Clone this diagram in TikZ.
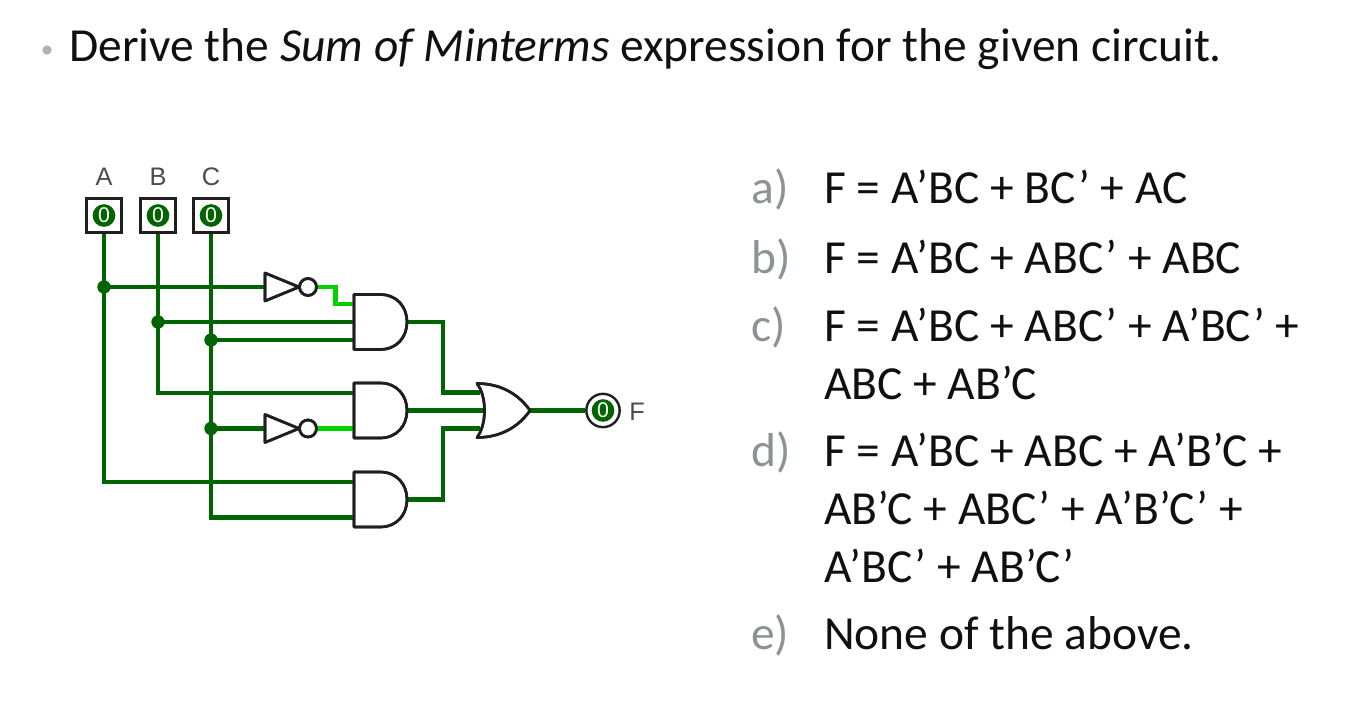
\documentclass[tikz,border=0pt]{standalone}
\usepackage{fontspec}
\setmainfont{Carlito}
\newfontfamily\arialfont{Liberation Sans}
\definecolor{wiredark}{HTML}{006400}
\definecolor{wirelit}{HTML}{00D200}
\definecolor{optgray}{HTML}{8C9490}
\definecolor{inktext}{HTML}{101010}
\tikzset{
  x=0.75pt,y=-0.75pt,
  wire/.style={draw=wiredark,line width=3.6pt,line join=miter},
  litwire/.style={draw=wirelit,line width=3.6pt,line join=miter},
  gateline/.style={draw=black!88,line width=2pt,line join=round},
  jdot/.style={circle,fill=wiredark,inner sep=0pt,minimum size=10pt},
  swbox/.style={draw=black!88,line width=2.4pt,fill=white,minimum size=26pt,inner sep=0pt},
  pinlamp/.style={circle,fill=wiredark,inner sep=0pt,minimum size=17pt,text=white,font=\arialfont\fontsize{16pt}{16pt}\selectfont},
  pinring/.style={circle,draw=black!88,line width=1.8pt,fill=white,inner sep=0pt,minimum size=25pt},
  pinlabel/.style={inner sep=0pt,text=black!70,font=\arialfont\fontsize{19pt}{19pt}\selectfont},
  maintext/.style={anchor=base west,inner sep=0pt,text=inktext,font=\fontsize{35.6pt}{35.6pt}\selectfont},
  optlabel/.style={anchor=base west,inner sep=0pt,text=optgray,font=\fontsize{35.6pt}{35.6pt}\selectfont},
  andg/.pic={
    \draw[gateline] (0,-27.5) -- (26,-27.5) .. controls (43,-27.5) and (53,-15) .. (53,0)
      .. controls (53,15) and (43,27.5) .. (26,27.5) -- (0,27.5) -- cycle;
    \coordinate (-a) at (0,-18);
    \coordinate (-b) at (0,0);
    \coordinate (-c) at (0,18);
    \coordinate (-t) at (0,-17.5);
    \coordinate (-u) at (0,18);
    \coordinate (-o) at (53,0);
  },
  orrg/.pic={
    \draw[gateline] (0,-27) .. controls (10,-14) and (10,14) .. (0,27)
      .. controls (24,27) and (42,16) .. (53,0)
      .. controls (42,-16) and (24,-27) .. (0,-27) -- cycle;
    \coordinate (-a) at (3,-18);
    \coordinate (-b) at (7,0);
    \coordinate (-c) at (3,18);
    \coordinate (-o) at (53,0);
  },
  invg/.pic={
    \draw[gateline] (0,-14) -- (34,0) -- (0,14) -- cycle;
    \draw[gateline] (43,0) circle[radius=8.5];
    \coordinate (-i) at (0,0);
    \coordinate (-o) at (51.5,0);
  },
}
\begin{document}
\begin{tikzpicture}
\useasboundingbox[fill=white] (0,0) rectangle (1352,720);

% heading
\node[circle,fill=optgray!70,inner sep=0pt,minimum size=7pt] (bullet) at (47,50) {};
\node[maintext] (title) at (69,62) {Derive the \textit{Sum of Minterms} expression for the given circuit.};

% input switches
\node[swbox] (swA) at (104,215.5) {};
\node[swbox] (swB) at (158,215.5) {};
\node[swbox] (swC) at (211,215.5) {};
\node[pinlabel] (labA) at (104,177) {A};
\node[pinlabel] (labB) at (158,177) {B};
\node[pinlabel] (labC) at (211,177) {C};

% junctions and bends
\coordinate (jA) at (104,287);
\coordinate (jB) at (158,322);
\coordinate (jC) at (211,340);
\coordinate (jC2) at (211,428.5);

% gate symbols
\pic (n1) at (265,287) {invg};
\pic (n2) at (265,428.5) {invg};
\pic (g1) at (354,322) {andg};
\pic (g2) at (354,410.5) {andg};
\pic (g3) at (354,499.5) {andg};
\pic (or) at (477,410.5) {orrg};

% output pin
\node[pinring] (outF) at (603,410.5) {};

% wires
\draw[wire] (swA.south) -- (jA) |- (g3-t);
\draw[wire] (swB.south) -- (jB) |- (g2-t);
\draw[wire] (swC.south) -- (jC) -- (jC2) |- (g3-u);
\draw[wire] (jA) -- (n1-i);
\draw[wire] (jB) -- (g1-b);
\draw[wire] (jC) -- (g1-c);
\draw[wire] (jC2) -- (n2-i);
\draw[litwire] (n1-o) -- ++(19,0) |- (g1-a);
\draw[litwire] (n2-o) -- (g2-u);
\draw[wire] (g1-o) -| (443,392.5) -- (or-a);
\draw[wire] (g2-o) -- (or-b);
\draw[wire] (g3-o) -| (443,428.5) -- (or-c);
\draw[wire] (or-o) -- (outF.west);

% redraw gate symbols above the wire ends
\pic at (265,287) {invg};
\pic at (265,428.5) {invg};
\pic at (354,322) {andg};
\pic at (354,410.5) {andg};
\pic at (354,499.5) {andg};
\pic at (477,410.5) {orrg};

% junction dots
\node[jdot] (dA) at (jA) {};
\node[jdot] (dB) at (jB) {};
\node[jdot] (dC) at (jC) {};
\node[jdot] (dC2) at (jC2) {};

% value lamps
\node[pinlamp] (lampA) at (swA) {0};
\node[pinlamp] (lampB) at (swB) {0};
\node[pinlamp] (lampC) at (swC) {0};
\node[pinlamp] (lampF) at (outF) {0};
\node[pinlabel,anchor=west] (labF) at (629,412) {F};

% answers
\node[optlabel] (oa) at (751,204) {a)};
\node[maintext] (ta) at (824,204) {F = A’BC + BC’ + AC};
\node[optlabel] (ob) at (751,273) {b)};
\node[maintext] (tb) at (824,273) {F = A’BC + ABC’ + ABC};
\node[optlabel] (oc) at (751,341) {c)};
\node[maintext] (tc) at (824,341) {F = A’BC + ABC’ + A’BC’ +};
\node[maintext] (tc2) at (824,399) {ABC + AB’C};
\node[optlabel] (od) at (751,466) {d)};
\node[maintext] (td) at (824,466) {F = A’BC + ABC + A’B’C +};
\node[maintext] (td2) at (824,524) {AB’C + ABC’ + A’B’C’ +};
\node[maintext] (td3) at (824,582) {A’BC’ + AB’C’};
\node[optlabel] (oe) at (751,649) {e)};
\node[maintext] (te) at (824,649) {None of the above.};
\end{tikzpicture}
\end{document}
